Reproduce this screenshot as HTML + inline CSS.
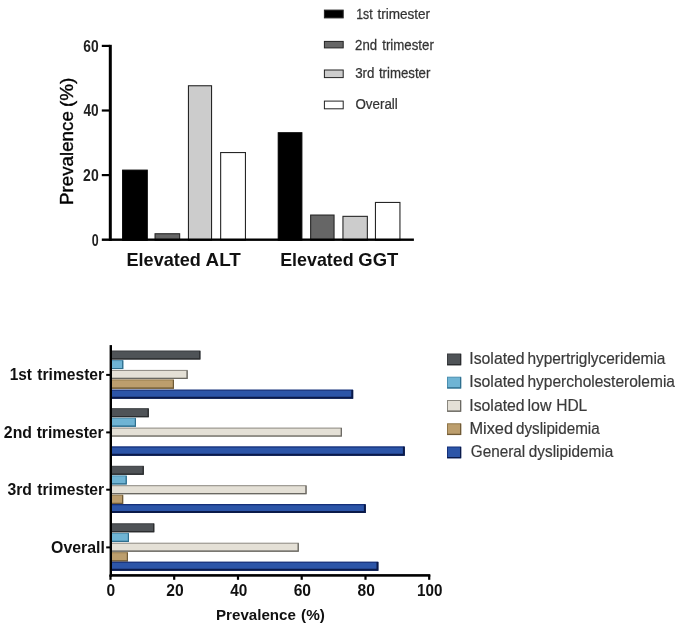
<!DOCTYPE html>
<html lang="en"><head><meta charset="utf-8"><title>Prevalence charts</title>
<style>html,body{margin:0;padding:0;background:#fff;overflow:hidden}svg{display:block;filter:blur(0.3px)}text{font-family:"Liberation Sans",Arial,sans-serif;white-space:pre}</style></head><body>
<svg width="685" height="632" viewBox="0 0 685 632">
<rect width="685" height="632" fill="#fff"/>
<g id="top">
<rect x="122.65" y="170.15" width="24.60" height="70.1" fill="#000" stroke="#000" stroke-width="1.1"/>
<rect x="155.05" y="233.75" width="24.60" height="6.5" fill="#666" stroke="#262626" stroke-width="1.1"/>
<rect x="188.45" y="85.75" width="23.10" height="154.5" fill="#ccc" stroke="#262626" stroke-width="1.1"/>
<rect x="220.65" y="152.55" width="24.80" height="87.7" fill="#fff" stroke="#262626" stroke-width="1.1"/>
<rect x="278.25" y="132.75" width="23.60" height="107.5" fill="#000" stroke="#000" stroke-width="1.1"/>
<rect x="310.65" y="215.05" width="23.40" height="25.2" fill="#666" stroke="#262626" stroke-width="1.1"/>
<rect x="342.95" y="216.35" width="24.40" height="23.9" fill="#ccc" stroke="#262626" stroke-width="1.1"/>
<rect x="375.45" y="202.45" width="24.50" height="37.8" fill="#fff" stroke="#262626" stroke-width="1.1"/>
<rect x="108.8" y="44.8" width="3.0" height="196.2" fill="#000"/>
<rect x="101.8" y="238.5" width="312.1" height="2.4" fill="#000"/>
<rect x="101.8" y="174.0" width="8" height="2.2" fill="#000"/>
<rect x="101.8" y="109.4" width="8" height="2.2" fill="#000"/>
<rect x="101.8" y="44.8" width="8" height="2.2" fill="#000"/>
<text transform="translate(91.70,245.60) scale(0.7763,1)" font-size="16.0" font-weight="bold" fill="#222">0</text>
<text transform="translate(83.11,181.00) scale(0.8756,1)" font-size="16.0" font-weight="bold" fill="#222">20</text>
<text transform="translate(83.50,116.40) scale(0.8531,1)" font-size="16.0" font-weight="bold" fill="#222">40</text>
<text transform="translate(83.32,51.80) scale(0.8635,1)" font-size="16.0" font-weight="bold" fill="#222">60</text>
<text transform="translate(73.40,204.90) rotate(-90) scale(1.0416,1)" font-size="18.0" fill="#000" stroke="#000" stroke-width="0.35">Prevalence</text>
<text transform="translate(73.40,107.04) rotate(-90) scale(1.0528,1)" font-size="18.0" fill="#000" stroke="#000" stroke-width="0.35">(%)</text>
<text transform="translate(126.52,265.80) scale(1.0052,1)" font-size="18.0" font-weight="bold" fill="#111">Elevated</text>
<text transform="translate(205.53,265.80) scale(1.0475,1)" font-size="18.0" font-weight="bold" fill="#111">ALT</text>
<text transform="translate(280.14,265.90) scale(0.9940,1)" font-size="18.0" font-weight="bold" fill="#111">Elevated</text>
<text transform="translate(358.36,265.90) scale(1.0244,1)" font-size="18.0" font-weight="bold" fill="#111">GGT</text>
<rect x="324.4" y="10.1" width="18.8" height="7.8" fill="#000" stroke="#222" stroke-width="1"/>
<text transform="translate(356.28,18.70) scale(0.8270,1)" font-size="14.8" fill="#333" stroke="#333" stroke-width="0.25">1st</text>
<text transform="translate(377.40,18.70) scale(0.9167,1)" font-size="14.8" fill="#333" stroke="#333" stroke-width="0.25">trimester</text>
<rect x="324.4" y="41.4" width="18.8" height="6.5" fill="#666" stroke="#222" stroke-width="1"/>
<text transform="translate(355.04,49.60) scale(0.8936,1)" font-size="14.8" fill="#333" stroke="#333" stroke-width="0.25">2nd</text>
<text transform="translate(382.20,49.60) scale(0.8974,1)" font-size="14.8" fill="#333" stroke="#333" stroke-width="0.25">trimester</text>
<rect x="324.4" y="70.0" width="18.8" height="7.6" fill="#ccc" stroke="#222" stroke-width="1"/>
<text transform="translate(355.17,78.20) scale(0.9026,1)" font-size="14.8" fill="#333" stroke="#333" stroke-width="0.25">3rd</text>
<text transform="translate(378.90,78.20) scale(0.8956,1)" font-size="14.8" fill="#333" stroke="#333" stroke-width="0.25">trimester</text>
<rect x="324.4" y="101.1" width="18.8" height="7.7" fill="#fff" stroke="#222" stroke-width="1"/>
<text transform="translate(355.50,109.20) scale(0.9024,1)" font-size="14.8" fill="#333" stroke="#333" stroke-width="0.25">Overall</text>
</g>
<g id="bottom">
<rect x="111.0" y="351.00" width="88.9" height="8.00" fill="#4f5357" stroke="#3a3d40" stroke-width="1"/>
<path d="M111.0 358.90H199.8V351.00" fill="none" stroke="#2a2c2e" stroke-width="1.2"/>
<rect x="111.0" y="360.60" width="11.8" height="8.00" fill="#6fb4d4" stroke="#4a8fb0" stroke-width="1"/>
<path d="M111.0 368.50H122.7V360.60" fill="none" stroke="#2f6f8e" stroke-width="1.2"/>
<rect x="111.0" y="370.40" width="76.2" height="8.00" fill="#e4e0d6" stroke="#8a877f" stroke-width="1"/>
<path d="M111.0 378.30H187.1V370.40" fill="none" stroke="#6a6862" stroke-width="1.2"/>
<rect x="111.0" y="379.90" width="62.5" height="8.30" fill="#bc9e6d" stroke="#8f7548" stroke-width="1"/>
<path d="M111.0 388.10H173.4V379.90" fill="none" stroke="#6f5a36" stroke-width="1.2"/>
<rect x="111.0" y="390.15" width="241.4" height="7.90" fill="#2c55a8" stroke="#15307a" stroke-width="1.3"/>
<path d="M111.0 397.70H352.3V390.00" fill="none" stroke="#0a1a4a" stroke-width="2.0"/>
<rect x="106.2" y="373.9" width="4.5" height="2.0" fill="#000"/>
<text transform="translate(9.68,380.40) scale(0.9566,1)" font-size="16.1" font-weight="bold" fill="#111">1st</text>
<text transform="translate(37.34,380.40) scale(0.9693,1)" font-size="16.1" font-weight="bold" fill="#111">trimester</text>
<rect x="111.0" y="408.70" width="37.3" height="8.00" fill="#4f5357" stroke="#3a3d40" stroke-width="1"/>
<path d="M111.0 416.60H148.2V408.70" fill="none" stroke="#2a2c2e" stroke-width="1.2"/>
<rect x="111.0" y="418.30" width="24.5" height="8.00" fill="#6fb4d4" stroke="#4a8fb0" stroke-width="1"/>
<path d="M111.0 426.20H135.4V418.30" fill="none" stroke="#2f6f8e" stroke-width="1.2"/>
<rect x="111.0" y="428.10" width="230.4" height="8.00" fill="#e4e0d6" stroke="#8a877f" stroke-width="1"/>
<path d="M111.0 436.00H341.3V428.10" fill="none" stroke="#6a6862" stroke-width="1.2"/>
<rect x="111.0" y="446.95" width="293.0" height="8.20" fill="#2c55a8" stroke="#15307a" stroke-width="1.3"/>
<path d="M111.0 454.80H403.9V446.80" fill="none" stroke="#0a1a4a" stroke-width="2.0"/>
<rect x="106.2" y="431.4" width="4.5" height="2.0" fill="#000"/>
<text transform="translate(3.85,437.90) scale(0.9827,1)" font-size="16.1" font-weight="bold" fill="#111">2nd</text>
<text transform="translate(36.64,437.90) scale(0.9736,1)" font-size="16.1" font-weight="bold" fill="#111">trimester</text>
<rect x="111.0" y="466.30" width="32.3" height="8.00" fill="#4f5357" stroke="#3a3d40" stroke-width="1"/>
<path d="M111.0 474.20H143.2V466.30" fill="none" stroke="#2a2c2e" stroke-width="1.2"/>
<rect x="111.0" y="475.90" width="15.3" height="8.00" fill="#6fb4d4" stroke="#4a8fb0" stroke-width="1"/>
<path d="M111.0 483.80H126.2V475.90" fill="none" stroke="#2f6f8e" stroke-width="1.2"/>
<rect x="111.0" y="485.70" width="195.1" height="8.00" fill="#e4e0d6" stroke="#8a877f" stroke-width="1"/>
<path d="M111.0 493.60H306.0V485.70" fill="none" stroke="#6a6862" stroke-width="1.2"/>
<rect x="111.0" y="495.20" width="11.7" height="8.30" fill="#bc9e6d" stroke="#8f7548" stroke-width="1"/>
<path d="M111.0 503.40H122.6V495.20" fill="none" stroke="#6f5a36" stroke-width="1.2"/>
<rect x="111.0" y="504.65" width="254.0" height="7.60" fill="#2c55a8" stroke="#15307a" stroke-width="1.3"/>
<path d="M111.0 511.90H364.9V504.50" fill="none" stroke="#0a1a4a" stroke-width="2.0"/>
<rect x="106.2" y="488.7" width="4.5" height="2.0" fill="#000"/>
<text transform="translate(7.41,495.20) scale(0.9794,1)" font-size="16.1" font-weight="bold" fill="#111">3rd</text>
<text transform="translate(37.34,495.20) scale(0.9693,1)" font-size="16.1" font-weight="bold" fill="#111">trimester</text>
<rect x="111.0" y="523.80" width="42.8" height="8.00" fill="#4f5357" stroke="#3a3d40" stroke-width="1"/>
<path d="M111.0 531.70H153.7V523.80" fill="none" stroke="#2a2c2e" stroke-width="1.2"/>
<rect x="111.0" y="533.40" width="17.5" height="8.00" fill="#6fb4d4" stroke="#4a8fb0" stroke-width="1"/>
<path d="M111.0 541.30H128.4V533.40" fill="none" stroke="#2f6f8e" stroke-width="1.2"/>
<rect x="111.0" y="543.20" width="187.3" height="8.00" fill="#e4e0d6" stroke="#8a877f" stroke-width="1"/>
<path d="M111.0 551.10H298.2V543.20" fill="none" stroke="#6a6862" stroke-width="1.2"/>
<rect x="111.0" y="552.70" width="16.5" height="8.30" fill="#bc9e6d" stroke="#8f7548" stroke-width="1"/>
<path d="M111.0 560.90H127.4V552.70" fill="none" stroke="#6f5a36" stroke-width="1.2"/>
<rect x="111.0" y="562.25" width="266.6" height="7.90" fill="#2c55a8" stroke="#15307a" stroke-width="1.3"/>
<path d="M111.0 569.80H377.5V562.10" fill="none" stroke="#0a1a4a" stroke-width="2.0"/>
<rect x="106.2" y="546.4" width="4.5" height="2.0" fill="#000"/>
<text transform="translate(51.06,552.90) scale(0.9870,1)" font-size="16.1" font-weight="bold" fill="#111">Overall</text>
<rect x="109.6" y="345.1" width="2.4" height="231.6" fill="#000"/>
<rect x="109.6" y="574.1" width="320.7" height="2.6" fill="#000"/>
<rect x="109.4" y="575" width="2.2" height="4.8" fill="#000"/>
<text transform="translate(106.58,596.00) scale(0.9923,1)" font-size="15.7" font-weight="bold" fill="#111">0</text>
<rect x="173.1" y="575" width="2.2" height="4.8" fill="#000"/>
<text transform="translate(166.19,596.00) scale(0.9970,1)" font-size="15.7" font-weight="bold" fill="#111">20</text>
<rect x="236.9" y="575" width="2.2" height="4.8" fill="#000"/>
<text transform="translate(230.25,596.00) scale(0.9781,1)" font-size="15.7" font-weight="bold" fill="#111">40</text>
<rect x="300.6" y="575" width="2.2" height="4.8" fill="#000"/>
<text transform="translate(293.67,596.00) scale(0.9970,1)" font-size="15.7" font-weight="bold" fill="#111">60</text>
<rect x="364.4" y="575" width="2.2" height="4.8" fill="#000"/>
<text transform="translate(357.49,596.00) scale(0.9922,1)" font-size="15.7" font-weight="bold" fill="#111">80</text>
<rect x="428.1" y="575" width="2.2" height="4.8" fill="#000"/>
<text transform="translate(416.99,596.00) scale(0.9686,1)" font-size="15.7" font-weight="bold" fill="#111">100</text>
<text transform="translate(216.02,620.00) scale(0.9957,1)" font-size="15.2" font-weight="bold" fill="#111">Prevalence</text>
<text transform="translate(301.03,620.00) scale(1.0083,1)" font-size="15.2" font-weight="bold" fill="#111">(%)</text>
<rect x="447.5" y="354.0" width="13.2" height="10.8" fill="#4f5357" stroke="#3a3d40" stroke-width="1"/>
<path d="M447.2 364.7H460.6V354.0" fill="none" stroke="#2a2c2e" stroke-width="1.2"/>
<text transform="translate(469.28,364.20) scale(0.9762,1)" font-size="16.2" fill="#3a3a3a" stroke="#3a3a3a" stroke-width="0.2">Isolated</text>
<text transform="translate(527.42,364.20) scale(0.9529,1)" font-size="16.2" fill="#3a3a3a" stroke="#3a3a3a" stroke-width="0.2">hypertriglyceridemia</text>
<rect x="447.5" y="377.2" width="13.2" height="10.8" fill="#6fb4d4" stroke="#4a8fb0" stroke-width="1"/>
<path d="M447.2 387.9H460.6V377.2" fill="none" stroke="#2f6f8e" stroke-width="1.2"/>
<text transform="translate(469.28,387.45) scale(0.9762,1)" font-size="16.2" fill="#3a3a3a" stroke="#3a3a3a" stroke-width="0.2">Isolated</text>
<text transform="translate(527.41,387.45) scale(0.9591,1)" font-size="16.2" fill="#3a3a3a" stroke="#3a3a3a" stroke-width="0.2">hypercholesterolemia</text>
<rect x="447.5" y="400.5" width="13.2" height="10.8" fill="#e4e0d6" stroke="#8a877f" stroke-width="1"/>
<path d="M447.2 411.2H460.6V400.5" fill="none" stroke="#6a6862" stroke-width="1.2"/>
<text transform="translate(469.28,410.70) scale(0.9762,1)" font-size="16.2" fill="#3a3a3a" stroke="#3a3a3a" stroke-width="0.2">Isolated</text>
<text transform="translate(527.46,410.70) scale(0.9859,1)" font-size="16.2" fill="#3a3a3a" stroke="#3a3a3a" stroke-width="0.2">low</text>
<text transform="translate(556.16,410.70) scale(0.9602,1)" font-size="16.2" fill="#3a3a3a" stroke="#3a3a3a" stroke-width="0.2">HDL</text>
<rect x="447.5" y="423.8" width="13.2" height="10.8" fill="#bc9e6d" stroke="#8f7548" stroke-width="1"/>
<path d="M447.2 434.4H460.6V423.8" fill="none" stroke="#6f5a36" stroke-width="1.2"/>
<text transform="translate(469.39,433.95) scale(1.0117,1)" font-size="16.2" fill="#3a3a3a" stroke="#3a3a3a" stroke-width="0.2">Mixed</text>
<text transform="translate(515.99,433.95) scale(0.9395,1)" font-size="16.2" fill="#3a3a3a" stroke="#3a3a3a" stroke-width="0.2">dyslipidemia</text>
<rect x="447.5" y="447.0" width="13.2" height="10.8" fill="#2c55a8" stroke="#15307a" stroke-width="1"/>
<path d="M447.2 457.7H460.6V447.0" fill="none" stroke="#0a1a4a" stroke-width="1.2"/>
<text transform="translate(470.84,457.20) scale(0.9439,1)" font-size="16.2" fill="#3a3a3a" stroke="#3a3a3a" stroke-width="0.2">General</text>
<text transform="translate(528.79,457.20) scale(0.9474,1)" font-size="16.2" fill="#3a3a3a" stroke="#3a3a3a" stroke-width="0.2">dyslipidemia</text>
</g>
</svg></body></html>
